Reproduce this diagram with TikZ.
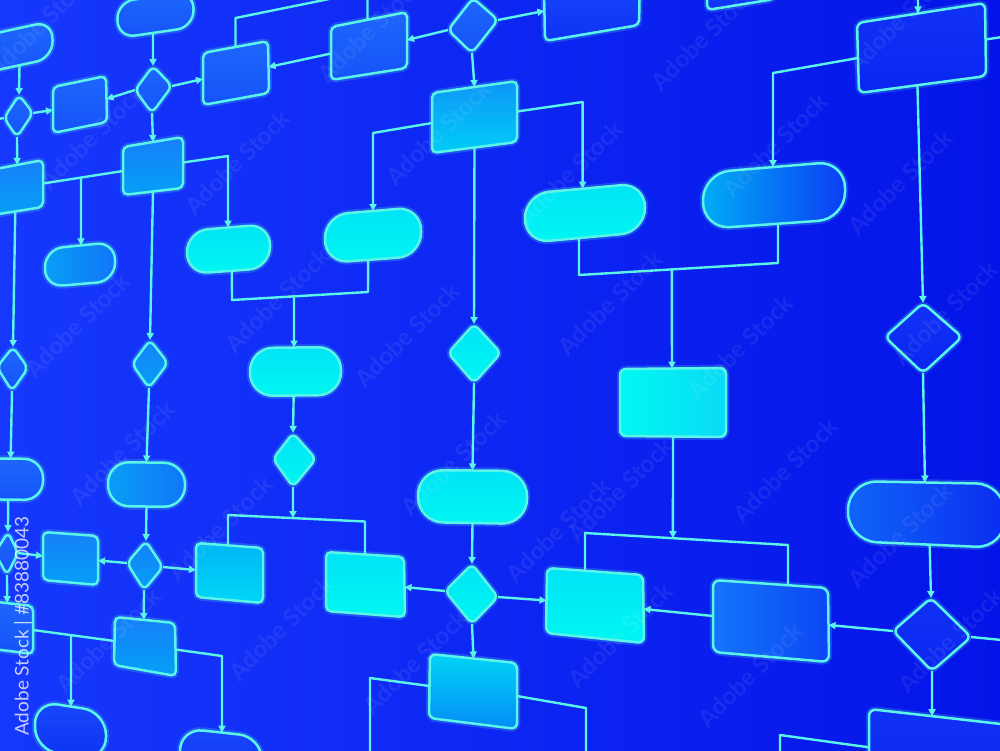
\documentclass[tikz,border=0pt]{standalone}
\usepackage{fontspec}
\newfontfamily\wmfont{Lato}
\usetikzlibrary{calc,arrows.meta}
\definecolor{bgL}{RGB}{22,56,252}
\definecolor{bgR}{RGB}{4,20,232}
\definecolor{ln}{RGB}{90,244,232}
\definecolor{dmA}{RGB}{30,102,252}
\definecolor{dmB}{RGB}{20,84,248}
\definecolor{dkA}{RGB}{24,72,250}
\definecolor{dkB}{RGB}{14,50,245}
\definecolor{vdA}{RGB}{16,50,245}
\definecolor{vdB}{RGB}{10,38,240}
\definecolor{mdA}{RGB}{22,128,250}
\definecolor{mdB}{RGB}{5,160,246}
\definecolor{ltA}{RGB}{15,150,248}
\definecolor{ltB}{RGB}{0,205,246}
\definecolor{brA}{RGB}{0,228,246}
\definecolor{brB}{RGB}{0,246,242}
\newcommand{\qshape}[7]{%
  \coordinate (#1-tl) at (#3);
  \coordinate (#1-tr) at (#4);
  \coordinate (#1-br) at (#5);
  \coordinate (#1-bl) at (#6);
  \coordinate (#1-n) at ($(#1-tl)!.5!(#1-tr)$);
  \coordinate (#1-s) at ($(#1-bl)!.5!(#1-br)$);
  \coordinate (#1-w) at ($(#1-tl)!.5!(#1-bl)$);
  \coordinate (#1-e) at ($(#1-tr)!.5!(#1-br)$);
  \coordinate (#1) at ($(#1-tl)!.5!(#1-br)$);
  \draw[shp,#2,rounded corners=#7] (#1-tl) -- (#1-tr) -- (#1-br) -- (#1-bl) -- cycle;
}
\newcommand{\dshape}[6]{%
  \coordinate (#1-n) at (#3);
  \coordinate (#1-e) at (#4);
  \coordinate (#1-s) at (#5);
  \coordinate (#1-w) at (#6);
  \coordinate (#1) at ($(#1-n)!.5!(#1-s)$);
  \draw[shp,#2,rounded corners=6pt] (#1-n) -- (#1-e) -- (#1-s) -- (#1-w) -- cycle;
}
\begin{document}
\begin{tikzpicture}[x=1pt,y=-1pt,
  shp/.style={draw=ln, line width=2.5pt, preaction={draw=ln, line width=6.5pt, draw opacity=0.2}},
  conn/.style={draw=ln, line width=2.4pt, line join=round},
  arr/.style={conn, -{Triangle[length=7pt,width=7pt]}},
  fDM/.style={top color=dmA, bottom color=dmB},
  fDK/.style={top color=dkA, bottom color=dkB},
  fVD/.style={top color=vdA, bottom color=vdB},
  fMD/.style={top color=mdA, bottom color=mdB},
  fMH/.style={left color={rgb,255:red,8;green,158;blue,246}, right color={rgb,255:red,16;green,118;blue,248}},
  fLT/.style={top color=ltA, bottom color=ltB},
  fLT2/.style={top color={rgb,255:red,0;green,182;blue,246}, bottom color={rgb,255:red,0;green,215;blue,246}},
  fBR/.style={top color=brA, bottom color=brB},
  fB9/.style={left color={rgb,255:red,0;green,248;blue,242}, right color={rgb,255:red,10;green,218;blue,246}},
  fP7/.style={left color={rgb,255:red,0;green,172;blue,245}, right color={rgb,255:red,12;green,62;blue,245}},
  fP12/.style={left color={rgb,255:red,16;green,100;blue,248}, right color={rgb,255:red,10;green,45;blue,240}},
  fB16/.style={top color={rgb,255:red,0;green,212;blue,246}, bottom color={rgb,255:red,5;green,140;blue,246}},
  fB17/.style={left color={rgb,255:red,20;green,118;blue,250}, right color={rgb,255:red,12;green,70;blue,245}},
  wmk/.style={font=\wmfont\bfseries\fontsize{24}{24}\selectfont, text=white, opacity=0.07, rotate=45},
  wmid/.style={font=\wmfont\fontsize{19}{19}\selectfont, text=white, opacity=0.75, rotate=90}]
\useasboundingbox (0,0) rectangle (1000,750);
\clip (0,0) rectangle (1000,750);
\shade[left color=bgL, right color=bgR] (0,0) rectangle (1000,750);

% ---------- shapes ----------
\qshape{P1}{fDM}{-40,41}{52,21}{53,58}{-40,78}{17pt}
\qshape{PT}{fDM}{117,2}{193,-9}{194,27}{118,38}{17pt}
\dshape{D1}{fDM}{19,95}{33,113}{17,137}{4,118}
\qshape{B2}{fDM}{53,87}{106,76}{107,122}{53,133}{5pt}
\dshape{D2}{fDM}{153,66}{172,86}{152,113}{135,90}
\qshape{B3}{fDM}{203,53}{268,41}{269,93}{203,105}{5pt}
\qshape{BL}{fMD}{-20,172}{43,160}{43,207}{-20,217}{5pt}
\qshape{B4}{fMD}{123,147}{183,137}{183,188}{123,195}{5pt}
\qshape{B5}{fDM}{331,27}{407,12}{407,68}{331,80}{5pt}
\dshape{D3}{fDM}{473,-2}{498,20}{472,53}{448,30}
\qshape{B6}{fDK}{544,-10}{640,-25}{639,25}{545,41}{5pt}
\qshape{B6b}{fDK}{707,-40}{775,-52}{775,-1}{707,10}{5pt}
\qshape{B7}{fLT}{432,93}{517,81}{517,142}{432,153}{5pt}
\qshape{B8}{fVD}{857,23}{985,3}{986,76}{859,93}{6pt}
\qshape{P3}{fMH}{45,249}{115,242}{115,281}{45,287}{18pt}
\qshape{P4}{fBR}{187,231}{270,224}{270,268}{187,274}{21pt}
\qshape{P5}{fBR}{325,215}{421,207}{421,256}{325,263}{23pt}
\qshape{P6}{fBR}{525,194}{645,183}{645,232}{525,243}{24pt}
\qshape{P7}{fP7}{703,173}{845,161}{845,219}{703,229}{27pt}
\qshape{P8}{fBR}{250,348}{341,347}{341,395}{250,396}{23pt}
\dshape{D4}{fDM}{13,347}{28,368}{12,391}{-3,367}
\dshape{D5}{fMD}{150,340}{168,363}{149,388}{132,364}
\dshape{D6}{fBR}{474,324}{501,353}{474,383}{448,353}
\dshape{D7}{fBR}{293,433}{316,459}{293,487}{273,459}
\dshape{D8}{fVD}{923,303}{962,337}{923,373}{885,337}
\qshape{B9}{fB9}{620,369}{726,368}{726,437}{620,436}{6pt}
\qshape{P9}{fDM}{-40,458}{43,459}{43,500}{-40,499}{19pt}
\qshape{P10}{fMH}{108,462}{185,463}{185,507}{108,506}{21pt}
\qshape{P11}{fBR}{418,470}{527,471}{527,524}{418,522}{25pt}
\qshape{P12}{fP12}{848,481}{1005,484}{1005,548}{848,541}{29pt}
\dshape{D9}{fDM}{8,532}{18,553}{7,575}{-5,553}
\qshape{B10}{fMD}{43,532}{98,536}{98,585}{43,580}{5pt}
\dshape{D10}{fMD}{146,541}{163,567}{144,590}{127,563}
\qshape{B11}{fLT2}{196,543}{263,548}{263,603}{196,597}{5pt}
\qshape{B12}{fBR}{326,552}{404,557}{405,617}{326,611}{5pt}
\dshape{D11}{fBR}{472,564}{498,597}{472,624}{445,591}
\qshape{B15}{fBR}{547,568}{643,575}{644,643}{546,633}{6pt}
\qshape{B16}{fB16}{430,654}{517,663}{517,729}{429,718}{6pt}
\qshape{B17}{fB17}{713,580}{828,588}{829,662}{713,652}{7pt}
\dshape{D12}{fVD}{931,598}{971,637}{932,671}{893,631}
\qshape{B18}{fVD}{869,709}{1010,725}{1010,790}{869,780}{7pt}
\qshape{B13}{fDM}{-30,599}{33,606}{33,654}{-30,646}{5pt}
\qshape{B14}{fMD}{115,617}{175,623}{176,676}{114,665}{5pt}
\qshape{P13}{fDK}{35,701}{106,712}{106,760}{35,750}{23pt}
\qshape{P14}{fDK}{180,728}{262,737}{262,785}{180,776}{23pt}

% ---------- connectors ----------
\coordinate (L1) at (-2,119);
\draw[conn] (L1) -- (D1-w);
\coordinate (P1a) at ($(P1-bl)!0.64!(P1-br)$);
\draw[arr] (P1a) -- (D1-n);
\draw[arr] (D1-e) -- (B2-w);
\coordinate (BLa) at ($(BL-tl)!0.59!(BL-tr)$);
\draw[arr] (D1-s) -- (BLa);
\draw[arr] (D2-w) -- (B2-e);
\draw[arr] (D2-e) -- (B3-w);
\coordinate (PTa) at ($(PT-bl)!0.46!(PT-br)$);
\draw[arr] (PTa) -- (D2-n);
\draw[arr] (D2-s) -- (B4-n);
\coordinate (T1) at (235.5,18);
\coordinate (T2) at (334,-2);
\draw[conn] (B3-n) -- (T1) -- (T2);
\draw[arr] (B5-w) -- (B3-e);
\coordinate (T3) at (367.5,-2);
\coordinate (B5a) at ($(B5-tl)!0.48!(B5-tr)$);
\draw[conn] (T3) -- (B5a);
\draw[arr] (D3-w) -- (B5-e);
\coordinate (B6a) at ($(B6-tl)!0.41!(B6-bl)$);
\draw[arr] (D3-e) -- (B6a);
\draw[arr] (D3-s) -- (B7-n);
\coordinate (P5t) at ($(P5-tl)!0.5!(P5-tr)$);
\coordinate (E1) at (373,133);
\draw[arr] (B7-w) -- (E1) -- (P5t);
\coordinate (P6t) at ($(P6-tl)!0.48!(P6-tr)$);
\coordinate (E2) at (582.6,102);
\draw[arr] (B7-e) -- (E2) -- (P6t);
\draw[arr] (B7-s) -- (D6-n);
\coordinate (P7t) at ($(P7-tl)!0.493!(P7-tr)$);
\coordinate (E3) at (773,73);
\draw[arr] (B8-w) -- (E3) -- (P7t);
\coordinate (B8b) at ($(B8-bl)!0.46!(B8-br)$);
\draw[arr] (B8b) -- (D8-n);
\coordinate (R1) at (1002,37);
\draw[conn] (B8-e) -- (R1);
\coordinate (T4) at (918,-2);
\coordinate (B8t) at ($(B8-tl)!0.477!(B8-tr)$);
\draw[arr] (T4) -- (B8t);
\draw[conn] (BL-e) -- (B4-w);
\coordinate (J1) at ($(BL-e)!0.475!(B4-w)$);
\coordinate (P3t) at ($(P3-tl)!0.514!(P3-tr)$);
\draw[arr] (J1) -- (P3t);
\coordinate (P4t) at ($(P4-tl)!0.494!(P4-tr)$);
\coordinate (E4) at (228,156);
\draw[arr] (B4-e) -- (E4) -- (P4t);
\draw[arr] (B4-s) -- (D5-n);
\coordinate (BLb) at ($(BL-bl)!0.56!(BL-br)$);
\draw[arr] (BLb) -- (D4-n);
\coordinate (P9t) at ($(P9-tl)!0.61!(P9-tr)$);
\draw[arr] (D4-s) -- (P9t);
\draw[arr] (D5-s) -- (P10-n);
\draw[arr] (P10-s) -- (D10-n);
\coordinate (P9b) at ($(P9-bl)!0.58!(P9-br)$);
\draw[arr] (P9b) -- (D9-n);
\draw[arr] (D9-e) -- (B10-w);
\coordinate (B13t) at ($(B13-tl)!0.59!(B13-tr)$);
\draw[arr] (D9-s) -- (B13t);
\draw[arr] (D10-w) -- (B10-e);
\draw[arr] (D10-e) -- (B11-w);
\coordinate (B14t) at ($(B14-tl)!0.48!(B14-tr)$);
\draw[arr] (D10-s) -- (B14t);
\draw[conn] (B13-e) -- (B14-w);
\coordinate (J6) at ($(B13-e)!0.466!(B14-w)$);
\coordinate (P13t) at ($(P13-tl)!0.507!(P13-tr)$);
\draw[arr] (J6) -- (P13t);
\coordinate (P14t) at ($(P14-tl)!0.512!(P14-tr)$);
\coordinate (E5) at (222,656);
\draw[arr] (B14-e) -- (E5) -- (P14t);
\coordinate (P4b) at ($(P4-bl)!0.54!(P4-br)$);
\coordinate (E6) at (232,300);
\coordinate (E7) at (368,292);
\coordinate (P5b) at ($(P5-bl)!0.45!(P5-br)$);
\draw[conn] (P4b) -- (E6) -- (E7) -- (P5b);
\coordinate (J2) at ($(E6)!0.456!(E7)$);
\coordinate (P8t) at ($(P8-tl)!0.484!(P8-tr)$);
\draw[arr] (J2) -- (P8t);
\coordinate (P8b) at ($(P8-bl)!0.48!(P8-br)$);
\draw[arr] (P8b) -- (D7-n);
\coordinate (E8) at (228,515);
\coordinate (E9) at (365,521.5);
\coordinate (B11t) at ($(B11-tl)!0.478!(B11-tr)$);
\coordinate (B12t) at ($(B12-tl)!0.5!(B12-tr)$);
\draw[conn] (B11t) -- (E8) -- (E9) -- (B12t);
\coordinate (J3) at ($(E8)!0.474!(E9)$);
\draw[arr] (D7-s) -- (J3);
\coordinate (P6b) at ($(P6-bl)!0.45!(P6-br)$);
\coordinate (E10) at (579,275);
\coordinate (E11) at (778,263);
\coordinate (P7b) at ($(P7-bl)!0.528!(P7-br)$);
\draw[conn] (P6b) -- (E10) -- (E11) -- (P7b);
\coordinate (J4) at ($(E10)!0.467!(E11)$);
\coordinate (B9t) at ($(B9-tl)!0.49!(B9-tr)$);
\draw[arr] (J4) -- (B9t);
\draw[arr] (D6-s) -- (P11-n);
\draw[arr] (P11-s) -- (D11-n);
\draw[arr] (D11-w) -- (B12-e);
\draw[arr] (D11-e) -- (B15-w);
\draw[arr] (D11-s) -- (B16-n);
\coordinate (E12) at (585,533);
\coordinate (E13) at (788,545);
\coordinate (B15t) at ($(B15-tl)!0.396!(B15-tr)$);
\coordinate (B17t) at ($(B17-tl)!0.652!(B17-tr)$);
\draw[conn] (B15t) -- (E12) -- (E13) -- (B17t);
\coordinate (J5) at ($(E12)!0.433!(E13)$);
\draw[arr] (B9-s) -- (J5);
\draw[arr] (B17-w) -- (B15-e);
\draw[arr] (D12-w) -- (B17-e);
\coordinate (R2) at (1002,640);
\draw[conn] (D12-e) -- (R2);
\coordinate (P12b) at ($(P12-bl)!0.52!(P12-br)$);
\draw[arr] (P12b) -- (D12-n);
\coordinate (B18t) at ($(B18-tl)!0.447!(B18-tr)$);
\draw[arr] (D12-s) -- (B18t);
\coordinate (B18l) at ($(B18-tl)!0.54!(B18-bl)$);
\coordinate (E14) at (780,735);
\coordinate (X1) at (780,752);
\draw[conn] (B18l) -- (E14) -- (X1);
\coordinate (P12t) at ($(P12-tl)!0.49!(P12-tr)$);
\draw[arr] (D8-s) -- (P12t);
\coordinate (E15) at (370,678);
\coordinate (X2) at (370,752);
\draw[conn] (B16-w) -- (E15) -- (X2);
\coordinate (E16) at (586,708);
\coordinate (X3) at (586,752);
\draw[conn] (B16-e) -- (E16) -- (X3);

% ---------- watermarks ----------
\foreach \x/\y [count=\i] in {40/25, 92/137, 237/162, 370/30, 438/133, 570/173, 703/38, 775/145, 900/182, 900/20,
  77/325, 122/453, 277/300, 407/335, 453/463, 610/303, 620/490, 740/347, 785/470, 945/313,
  108/640, 220/528, 281/628, 415/662, 558/530, 620/635, 750/675, 900/535, 950/640}
  \node[wmk] (wm\i) at (\x,\y) {Adobe Stock};
\node[wmid] (wmid) at (23,626) {Adobe Stock | \#83880043};
\end{tikzpicture}
\end{document}
